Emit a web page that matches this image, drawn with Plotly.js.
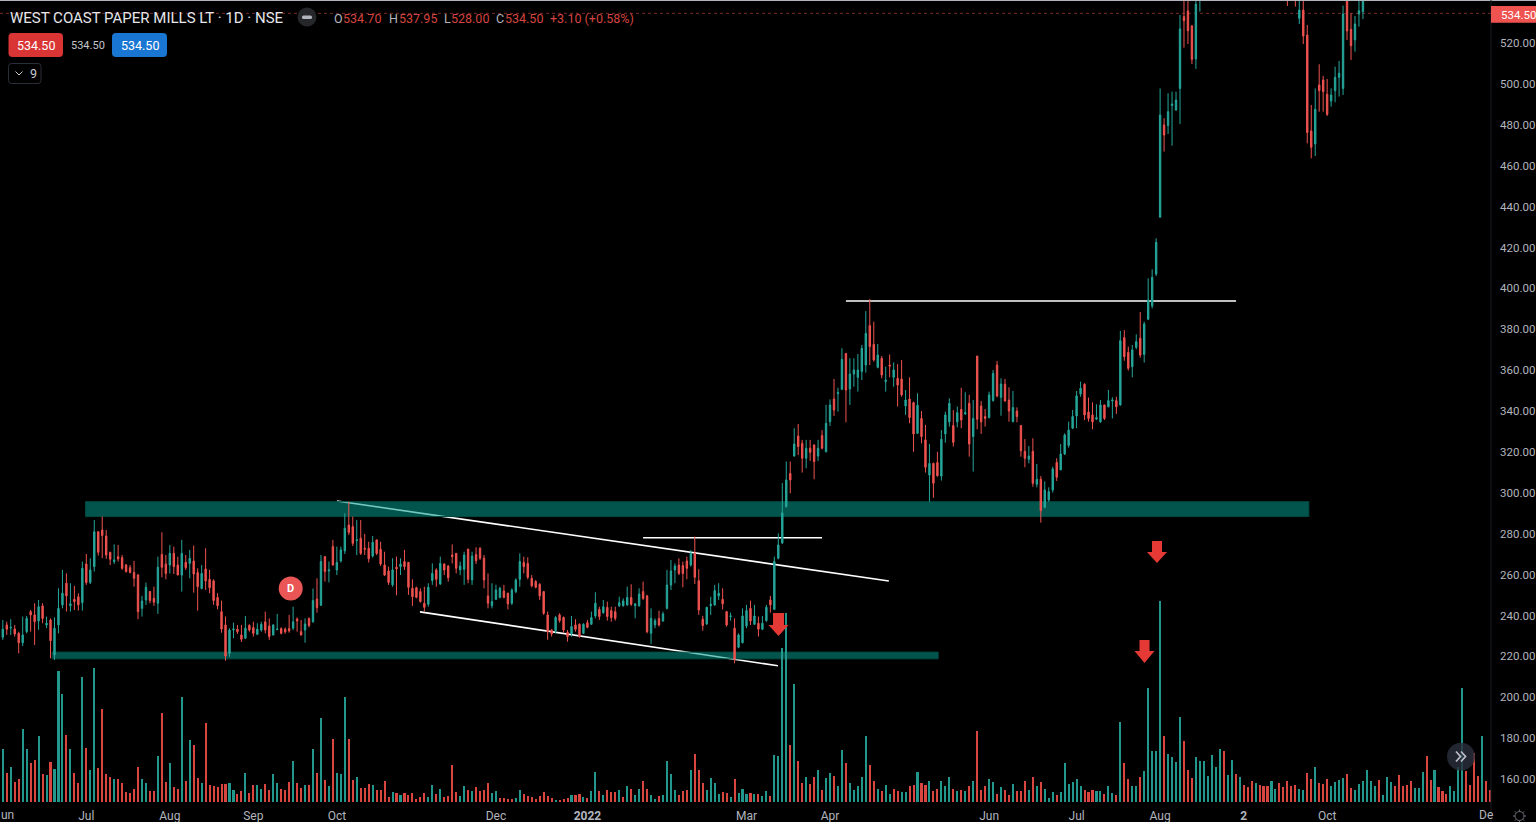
<!DOCTYPE html>
<html><head><meta charset="utf-8">
<script src="https://cdn.plot.ly/plotly-3.0.1.min.js"></script>
<style>html,body{margin:0;padding:0;background:#000;overflow:hidden}#chart{width:1536px;height:822px}</style>
</head><body><div id="chart"></div>
<script>
const open = [
229.4,235.4,233.9,233.4,231.3,226.7,232.1,241.9,240.3,237.3,
244.7,235.4,237.8,220.7,235.4,245.2,255.8,244.8,247.9,249.2,
246.3,265.2,256.2,263.9,281,281.8,278.9,270.9,266.4,268.8,
268.3,264.7,263.4,261.1,259.8,243.5,247.6,251.7,248.4,246,
269.9,265.2,264.7,270.4,264.7,259.8,266,265.5,266.7,261,
253.2,262.8,257.7,257,248.8,241.9,235.4,221.5,232.9,233.3,
230.5,228.9,235.2,234.1,230.8,232.9,236.9,234.9,230.5,233.1,
233.6,233.3,233.6,233.8,238.3,232.1,232.9,238.5,236.9,248.1,
245,268.8,261.8,273.7,262.3,266.7,271.6,284.3,283.5,276.6,
277.8,272.9,272.9,269.1,277,272.4,264.7,261.8,255,263.6,
263.9,266.4,266,253.3,253.6,251.7,246,245.5,257.1,262.3,
255.4,265.2,264.2,269.6,270.4,262.3,262.6,272.5,257.4,269.9,
272.9,268,249.6,244.8,247.9,248.9,252,250.9,246,251.7,
257.7,265.9,265.5,258.2,256.6,255.3,251.7,240.3,232.9,232.6,
240.3,239.1,231.8,231,235.4,235.7,231.3,236.5,235.7,239.8,
243,241.4,244,242.4,241.9,244.7,244.8,245.2,248.8,244.8,
244.8,251.7,249.6,231.3,235.4,238.6,237.3,243.5,254.9,262.3,
264.7,264.4,266.7,264.7,270.4,257,238.2,235.9,244.8,245.2,
249.6,247.9,241.9,239.5,233.8,224.5,226.7,234.9,243.5,235.7,
236.2,233.3,237.5,247.6,243,268,275.5,293.2,309.5,318,
327.8,324.2,316.9,321.8,323.4,318,328,320.1,334.8,345.9,
348.5,350.6,368.2,350.8,358.1,356.5,359.3,362.5,381.8,372.6,
361.4,365.8,354.4,362.5,356.5,356,355.7,342.5,345.9,344.1,
329.1,336.4,325.9,308.7,314.4,314.8,308.2,328.8,334.7,332.9,
334.7,340.8,338.6,343.8,327.5,366.9,342.5,337.3,336.8,345.1,
362.5,346.7,353.1,345.4,334.8,340,332.9,320.3,316.4,320.3,
304.2,306.6,292.9,296.5,301.4,314.8,311.2,319,323.2,331.6,
337.6,348.3,353.1,339.5,338.1,336,334.7,343,342.1,344.9,
345.1,343,375.9,368.7,361.7,371.2,375.6,367.7,384.9,391.4,
407,434.8,479.9,479.6,489.4,487.2,497.8,532.9,535.7,528.3,
512.2,545,556,566,572,588,596,616,602,612,
624,610,620,610,604,594,602,594,586,580,
588,590,576,565,552,548,532.1,536.1,523.9,477,
470.6,499.5,501.9,494.9,491.6,496.7,503.2,497.8,542,526.7,
521.5,534.2,535.3,548,562,568,574,564,568,580,
588,580,566,560,554,548,554,558,578,560,
554,572,566,562,558,564,566,582,612,600,
594,572,562,586,574];
const close = [
233.3,233.3,234.2,231,226.7,230.5,238.6,240.3,237,244.3,
238.6,236.2,227.7,233.8,243.5,250.9,249.6,245.7,246.8,245.2,
263.1,256.1,262.3,281,270.9,279.1,269.6,267.5,267.2,267.7,
263.1,261.5,261.1,258.2,241.9,247.1,253.8,247.3,246.5,263.6,
263.6,260.6,270.4,263.9,259.8,270.4,263.4,268,260.3,254.1,
260.6,256.9,253.6,247.3,244.8,233.4,220.2,232.9,233.4,232.1,
228.4,233.8,232.9,231.3,233.4,235.7,232.9,229.7,235.4,233.4,
231.3,232,232.5,236.9,237.3,230.5,235.9,235.1,247.3,243.9,
266.4,261.5,262.3,264.7,265.9,272.1,282.7,280.7,275.3,277,
270.4,272.4,267.7,275.8,270.4,265.2,259.8,256.2,262.3,262.9,
265.2,263.9,253.8,249.2,248.9,246.8,244,253.8,260.6,257.7,
265.5,262.3,258.5,268.8,263.1,264.2,269.6,257.7,269.1,266.8,
268,257.4,246,246.8,252.5,253.3,248.9,245.7,252.5,257.4,
266.4,263.9,258.7,254.5,253.8,249.6,241.1,232.1,231,239,
237.5,232.9,229.7,234.6,233.3,229.7,235.7,234.2,239,246,
239.5,244.3,239.5,239,238.6,246.3,247.1,248.8,245.5,245.7,
250.5,248.4,232.1,238.6,237.5,235.4,240.8,254.9,261.8,264.2,
260.6,260.6,263.1,270.4,258.7,242.7,235.1,244,245.5,252.2,
250.9,245.7,235.4,239.8,218.6,230.5,239.8,242.4,237.3,239.8,
233.3,236.2,244,245.2,266.4,274.5,290.2,306.3,306.3,323.9,
322.6,316.9,321.8,319.8,315.3,321.8,321.8,334,343,340.5,
349,365.3,350.3,358.1,360.1,360.1,370.7,378,371.5,365,
367.4,357.6,355.2,362,360.1,352.7,347.9,345.4,336.8,328.8,
342.8,327.5,312.5,314.4,304.7,308.4,326.2,338.1,343.8,324.7,
339.2,335.6,339.2,323.9,336.4,336,334.7,336.4,347.9,358.4,
347.4,353.2,344.9,340,341.7,337.3,320.6,316.9,318,304.7,
306.6,291.3,301.4,300.6,311.7,307.6,319,328.3,330.7,337.3,
347.4,351.1,338.1,336.4,334.7,336.8,343,336.4,345.1,345.4,
342.1,374.4,366.6,360.9,369.9,373.9,367.4,382.6,394.3,405.4,
422.5,484.8,475,486.4,490.2,492.1,526.9,530.9,526,512,
539,556,568,572,588,596,616,602,612,624,
610,620,610,604,594,602,594,586,580,588,
590,576,566,548,546,543,536.1,523.4,476.2,469,
487.6,496.7,496.2,485.1,494.6,503.2,505.2,534.2,525.9,518.7,
529.3,535.8,545,562,568,574,564,568,580,588,
580,566,560,554,548,554,558,578,560,554,
572,566,562,558,564,566,582,612,600,594,
572,562,586,574,570];
const high = [
237.8,237,238.2,235.4,232.1,239.5,239.8,242.7,246,247.6,
246,239.5,238.6,239.1,253.3,262.3,260.6,255.8,254.5,250.9,
266.4,270.1,268,286.7,281,288.4,281.8,271.2,274.8,274.5,
269.6,265.2,264.7,266.7,260.3,249.6,256.1,252,254.1,268.8,
280.7,269.6,274.5,273.7,268.8,277,269.6,272.1,274.2,263.1,
264.7,272.9,262.3,257.7,250.9,247.3,239.5,233.8,236.5,235.4,
235.4,239.8,235.7,237,236.2,237,241.9,238.6,235.7,240.8,
234.2,234.2,240.3,244.3,239.1,237.8,238.6,239.1,253.2,258.2,
269.6,269.1,266.4,277,273.7,273.7,290,295.7,288.4,286.7,
286.7,279.9,276.1,278.9,277,276.1,271.2,263.9,268,268.8,
268,272.1,266,257.7,254.1,253.3,254.1,255.8,265.5,263.1,
268.8,265.5,264.7,274.8,270.4,266.4,271.2,272.5,271.2,273.4,
273.4,269.6,260.6,255.8,255,254.1,255,251.2,253.3,258.2,
270.4,268.8,268.5,259.8,257.4,255.8,252,241.9,233.3,239.8,
241.1,239.5,232.9,239.8,238.2,236.2,236.2,237.8,241.9,251.4,
244.3,247.6,246.8,244.3,244.3,249.2,248.4,254.1,255.3,246,
253.3,256.6,250.1,243.5,238.6,242.4,241.9,262.3,267.2,265.5,
268,266.4,268.8,272.1,278.6,262.6,239.8,244.3,249.2,255,
255.8,253.3,242.2,241.4,238.6,231.3,243.5,245.2,247.3,245.2,
239.5,239.8,245.2,249.6,268.8,280.2,304.8,315.3,315.3,331.6,
333.7,325.9,325.9,325.9,323.7,325.9,330.7,343,345.7,355.7,
351.4,370.7,368.2,365.8,365.8,367.9,372.3,388.9,394.8,383.7,
372.8,366.9,361.7,367.7,363.8,363,365,350.3,356.5,344.6,
348.7,340,333.2,323.9,314.8,320.1,330.7,339.7,346.2,340.5,
342.2,351.4,349.2,347.9,345.4,366.9,344.9,341,349.5,360.1,
364.5,356,355.7,351.6,349.8,341.8,333.2,326.3,322.9,326.7,
314.1,308.2,305.6,302.7,312.8,316.9,323.9,329.1,334.8,340.5,
349.8,354.4,353.6,346.6,344.3,343.3,345.4,343,350.3,346.7,
347,379.2,379.6,371.5,372.3,377.5,388.4,383.7,404.9,409.3,
424.5,497.8,483.2,495.4,496.2,496.2,533.7,545,546,528.8,
552,560,572,578,592,602,622,632,618,630,
632,626,626,618,612,606,608,600,594,592,
596,594,582,570,556,554,544,543,528.8,489.7,
497.8,509.6,503.9,502.4,497.8,508.4,511.2,538.3,545,534.5,
533.2,545,550,566,572,578,580,572,584,592,
594,586,572,566,560,558,562,582,590,566,
576,576,570,566,568,570,586,620,620,606,
600,578,592,590,578];
const low = [
228.1,230.5,230.5,229.7,221.5,225.1,231.3,232.1,225.6,233,
236.2,233.8,219.1,218.3,231.3,243.5,241.9,241.9,242.7,242.4,
242.4,255,255.4,261.5,269.3,268,267.7,264.7,265.2,266.4,
262.3,261,260.6,254.1,238.2,239.5,245.2,246,244.7,240.8,
258.7,257.7,260.6,260.3,259.8,251.7,262.3,258.2,251.2,242.4,
252.8,252.5,250.9,245.2,243,231.6,217.9,219.9,228.9,231,
227.1,228.5,232.1,229.7,230.5,232.1,231.3,228.1,230.2,232.9,
230.8,231.1,231.6,232.9,232.1,230.2,226.7,234.2,236.5,241.4,
244.7,256.6,256.2,264.4,259.8,265.9,270.1,279.4,274,269.6,
269.6,269.6,265.9,268.3,269.6,264.2,259.3,255,254.1,249.9,
259.8,262.3,250.1,244.7,248.4,246.3,241.9,244.3,255,254.1,
255,259.8,256.6,265.5,260.6,259.8,255,255.8,255,265.2,
267.2,253.3,243.5,243.5,247.6,248.4,248.4,243,245.2,250.9,
254.1,260.6,257.7,253.8,253.3,247.6,240.3,228.1,229.7,231.3,
236.5,231.6,227.2,229.7,232.1,229.2,231,233.8,235.4,238.6,
237.8,240.8,237.5,237,237.5,244.3,244.3,244.7,244.7,238.6,
244.3,247.6,231.3,226.1,233.8,234.6,237,243,252.5,255.8,
259.8,253.8,257.7,263.9,255.4,240.3,232.6,235.4,240.3,244.7,
247.6,243,234.6,237.5,216.6,224,226.4,233.8,235.4,235.4,
229.7,232.9,237,241.4,242.7,267.5,275,292.9,299.8,317.7,
318.5,309.9,312,315.6,306.6,315.6,321.3,319.8,332.7,337.6,
339.7,350.6,334.5,343,351.9,349.5,355.2,358.8,362.5,364.2,
360.9,356,349.5,356.5,351.9,342.2,347,338.1,334,320.1,
328.8,324.2,309.9,295.7,297.6,307.9,306,324.5,332.4,322.6,
332,331.6,338.1,317.7,310.4,331.1,328.8,332.4,336.4,344.6,
346.7,337.7,344.6,334.8,334.5,334.5,317.7,312.5,314.4,303,
302.7,285.4,292.4,295.7,300.1,305.8,311.2,318.5,322.1,331.2,
331.6,347,335.6,334.8,331.1,335.6,334.3,335.6,341.8,336.4,
338.6,342.6,364.6,359.8,356.5,370.2,366.1,363.7,384.5,390.2,
406,434.8,466.9,475.5,469.8,486.9,480.4,517.7,519.5,509.7,
507.3,535.3,550,558,566,580,590,596,596,604,
606,604,606,600,590,588,590,582,576,574,
582,572,562,538.1,543,537.8,529.3,519.5,470.9,463.6,
464.7,486.4,486.4,484.3,488.9,491,493.8,494.6,521.5,511.7,
515.8,528,531.7,544,556,562,560,560,562,574,
576,562,556,550,546,546,550,554,556,550,
550,562,558,556,554,560,562,578,596,590,
568,558,558,570,566];
const volume = [
53,29,35,20,23,73,53,39,42,66,
28,27,40,33,131,108,67,53,29,19,
125,54,32,134,34,93,28,25,23,23,
19,10,9,13,35,23,19,11,11,46,
89,20,39,15,13,105,21,62,57,24,
19,79,17,16,15,18,18,19,12,8,
11,29,9,17,17,13,18,12,28,19,
13,12,20,41,19,14,17,17,53,29,
84,22,16,63,29,28,105,63,22,25,
14,14,18,17,12,12,21,5,10,9,
7,9,7,9,3,5,9,5,17,8,
13,5,6,37,10,6,16,12,11,15,
11,12,19,9,11,4,4,3,3,4,
12,8,6,5,3,6,10,6,4,2,
2,3,4,7,7,8,5,4,11,30,
11,7,12,10,10,12,5,16,13,7,
13,21,13,7,3,6,7,41,28,12,
7,11,12,32,48,32,19,12,24,19,
8,10,9,5,23,9,13,8,9,8,
8,6,11,6,47,46,154,189,57,118,
41,19,25,18,25,32,12,24,29,26,
16,52,39,19,12,16,25,66,37,21,
13,11,17,8,13,11,10,10,16,17,
30,19,17,21,11,13,21,16,25,13,
11,12,11,16,21,71,12,16,23,20,
8,15,12,7,18,11,11,21,12,25,
16,20,13,4,10,7,10,39,18,20,
23,16,12,10,12,11,11,8,16,9,
7,80,39,23,16,16,25,31,114,51,
51,201,66,48,45,40,85,61,32,24,
45,41,41,26,47,35,53,51,27,42,
28,25,17,15,21,19,17,16,16,21,
13,19,15,21,16,17,13,12,29,23,
35,19,18,23,16,20,22,24,28,14,
12,18,21,32,21,16,22,7,25,20,
16,27,16,17,21,14,14,30,46,22,
32,15,11,8,16,11,35,114,31,17,
49,26,66,21,12];
const volumeSide =
"grgrrggrrg"+"rgrgggrgrr"+"grggrrrrgr"+"rrrrrggrrg"+"rrgrrgrgrr"+"grrrrrrggr"+"rgrrggrrgg"+"rrrgrrgrgr"+"grgrgggrrg"+"rrrgrrrrgr"+
"grrrrrrggr"+"grrrrggrgr"+"rrrggrrrrg"+"grrrrrrrrg"+"rrrgrrgrgg"+"rgrrrgrgrg"+"grrggrgggg"+"rrrgrrrggg"+"grrgrgggrg"+"rggrggggrg"+
"rrgrrgrggr"+"ggrgggggrr"+"grggrrggrr"+"grrgrrgggr"+"grgrgrrrgg"+"rgrrgrrrgr"+"grgggrgggg"+"ggrrrggrgg"+"rgrrggrggg"+"ggrggggrrr"+
"gggggggrgg"+"rgrrrgrrrg"+"grrrrrggrr"+"grrrggggrr"+"ggggggrggg"+"rrrrrgggrr"+"grrrggggrr"+"rrgrr";
const priceTicks = [160,180,200,220,240,260,280,300,320,340,360,380,400,420,440,460,480,500,520,540];
const monthTicks = [21,42,63,84,124,147,187,208,248,270,291,312,333];
const monthLabels = ["Jul","Aug","Sep","Oct","Dec","<b>2022</b>","Mar","Apr","Jun","Jul","Aug","<b>2</b>","Oct"];
const trendLines = [[84,296,222.8,256.9],[104.9,241.8,194.9,215.4],[161,278,206,278],[212,393.8,310.1,393.8]];
const zones = [[20.8,295.7,328.4,288.4],[12.4,222.1,235.2,218.8]];

const W=1491,H=802;
const X=p=>p/W, Y=p=>1-p/H;
const UP='#26a69a',DN='#ef5350',VUP='#22978b',VDN='#d9453f';
const FONT='Roboto,"Liberation Sans",Arial,sans-serif';
const idx=open.map((_,i)=>i);
const pageRect=(x0,y0,x1,y1,fill,line)=>({type:'rect',xref:'paper',yref:'paper',x0:X(x0),x1:X(x1),y0:Y(y0),y1:Y(y1),fillcolor:fill,line:line||{width:0}});
const rounded=(x0,y0,x1,y1,r,fill,line)=>({type:'path',xref:'paper',yref:'paper',fillcolor:fill,line:line||{width:0},
 path:`M ${X(x0+r)} ${Y(y0)} L ${X(x1-r)} ${Y(y0)} Q ${X(x1)} ${Y(y0)} ${X(x1)} ${Y(y0+r)} L ${X(x1)} ${Y(y1-r)} Q ${X(x1)} ${Y(y1)} ${X(x1-r)} ${Y(y1)} L ${X(x0+r)} ${Y(y1)} Q ${X(x0)} ${Y(y1)} ${X(x0)} ${Y(y1-r)} L ${X(x0)} ${Y(y0+r)} Q ${X(x0)} ${Y(y0)} ${X(x0+r)} ${Y(y0)} Z`});
const arrow=(cx,top,bot,mid,hw,sw)=>({type:'path',xref:'paper',yref:'paper',fillcolor:'#e53935',line:{width:0},
 path:`M ${X(cx-sw)} ${Y(top)} L ${X(cx+sw)} ${Y(top)} L ${X(cx+sw)} ${Y(mid)} L ${X(cx+hw)} ${Y(mid)} L ${X(cx)} ${Y(bot)} L ${X(cx-hw)} ${Y(mid)} L ${X(cx-sw)} ${Y(mid)} Z`});
const circle=(cx,cy,r,fill,line)=>({type:'circle',xref:'paper',yref:'paper',x0:X(cx-r),x1:X(cx+r),y0:Y(cy+r),y1:Y(cy-r),fillcolor:fill,line:line||{width:0}});
const chevron=(x,y)=>({type:'path',xref:'paper',yref:'paper',path:`M ${X(x)} ${Y(y-5)} L ${X(x+4.5)} ${Y(y)} L ${X(x)} ${Y(y+5)}`,line:{color:'#b8bcc6',width:1.8}});
const gearSpokes=(cx,cy,r0,r1)=>({type:'path',xref:'paper',yref:'paper',line:{color:'#6a6d78',width:1},
 path:[0,1,2,3,4,5,6,7].map(k=>{const a=k*Math.PI/4;return `M ${X(cx+r0*Math.cos(a))} ${Y(cy+r0*Math.sin(a))} L ${X(cx+r1*Math.cos(a))} ${Y(cy+r1*Math.sin(a))}`;}).join(' ')});
const txt=(x,y,s,color,size,anchor,font)=>({xref:'paper',yref:'paper',x:X(x),y:Y(y),text:s,showarrow:false,xanchor:anchor||'left',yanchor:'middle',borderpad:0,
 font:{color,size,family:font||FONT}});

const shapes=[
 ...trendLines.map(l=>({type:'line',xref:'x',yref:'y2',x0:l[0],y0:l[1],x1:l[2],y1:l[3],line:{color:'#ffffff',width:1.6},layer:'below'})),
 ...zones.map(z=>({type:'rect',xref:'x',yref:'y2',x0:z[0],y0:z[1],x1:z[2],y1:z[3],fillcolor:'rgba(4,155,140,0.55)',line:{color:'#004a42',width:1},layer:'below'})),
 {type:'line',xref:'paper',yref:'y2',x0:0,x1:1,y0:534.5,y1:534.5,line:{color:'rgba(239,83,80,0.5)',width:1,dash:'dot'},layer:'below'},
 {type:'line',xref:'paper',yref:'paper',x0:0,x1:X(1536),y0:Y(0.5),y1:Y(0.5),line:{color:'#b2b5be',width:1}},
 {type:'line',xref:'paper',yref:'paper',x0:1,x1:1,y0:Y(0),y1:Y(822),line:{color:'#1a1c22',width:1}},
 arrow(778.5,613,636,625,10,5.5),arrow(1157,541,563,552,10,5),arrow(1144.5,640,663,651,10,5),
 circle(290.7,588.5,12,'#ea5656'),
 circle(1461,756.7,14,'rgba(40,46,60,0.82)'),chevron(1456,756.5),chevron(1461,756.5),
 circle(1519.5,816,4.5,'rgba(0,0,0,0)',{color:'#6a6d78',width:1}),gearSpokes(1519.5,816,4.5,6.5),
 circle(307,17,9.5,'#26272b'),rounded(302,15.5,312,19,1.5,'#b2b5be'),
 rounded(8.5,33,63,57,4,'#d93535'),rounded(112,33,167,57,4,'#1976d2'),
 rounded(8.5,63.5,41,83.5,3,'rgba(0,0,0,0)',{color:'#2a2e39',width:1}),
 {type:'path',xref:'paper',yref:'paper',path:`M ${X(15.5)} ${Y(71.5)} L ${X(19)} ${Y(75)} L ${X(22.5)} ${Y(71.5)}`,line:{color:'#c8cad0',width:1}},
 pageRect(1491,6,1536,22.7,'#ef5350')
];
const annotations=[
 txt(9,18,'WEST COAST PAPER MILLS LT · 1D · NSE','#e4e6ea',15),
 txt(332.5,18.5,'O','#b2b5be',12.5),txt(342,18.5,'534.70','#d5443f',12.5),
 txt(387.5,18.5,'H','#b2b5be',12.5),txt(398,18.5,'537.95','#d5443f',12.5),
 txt(443,18.5,'L','#b2b5be',12.5),txt(449.5,18.5,'528.00','#d5443f',12.5),
 txt(495,18.5,'C','#b2b5be',12.5),txt(504,18.5,'534.50','#d5443f',12.5),
 txt(549,18.5,'+3.10 (+0.58%)','#d5443f',12.5),
 txt(35.7,45.5,'534.50','#ffffff',12.5,'center'),txt(87.5,45.5,'534.50','#c4c6cc',11,'center'),txt(139.5,45.5,'534.50','#ffffff',12.5,'center'),
 txt(28.5,73.5,'9','#c8cad0',12.5),
 txt(290.7,588.5,'<b>D</b>','#ffffff',11,'center'),
 txt(1500,14.5,'534.50','#ffffff',11.5),
 txt(0,815.5,'un','#b2b5be',12),txt(1477.5,815.5,'De','#b2b5be',12)
];
const data=[
 {type:'bar',x:idx,y:volume,yaxis:'y',xaxis:'x',width:0.52,marker:{color:volumeSide.split('').map(s=>s==='g'?VUP:VDN),line:{width:0}},hoverinfo:'skip'},
 {type:'candlestick',x:idx,open,high,low,close,yaxis:'y2',xaxis:'x',whiskerwidth:0,
  increasing:{line:{color:UP,width:1},fillcolor:UP},decreasing:{line:{color:DN,width:1},fillcolor:DN},hoverinfo:'skip'}
];
const layout={
 width:1536,height:822,margin:{l:0,r:45,t:0,b:20,pad:0},paper_bgcolor:'#000',plot_bgcolor:'#000',showlegend:false,boxgap:0.5,bargap:0,dragmode:false,hovermode:false,
 xaxis:{type:'linear',range:[-0.704,374.2],tickmode:'array',tickvals:monthTicks,ticktext:monthLabels,ticklen:0,showgrid:false,zeroline:false,showline:false,
  tickfont:{color:'#b2b5be',size:12,family:FONT},rangeslider:{visible:false},ticklabelstandoff:5,tickangle:0},
 yaxis:{range:[0,802],visible:false,fixedrange:true},
 yaxis2:{overlaying:'y',side:'right',range:[148.8,541.03],tickmode:'array',tickvals:priceTicks,ticktext:priceTicks.map(v=>v.toFixed(2)),ticklen:0,showgrid:false,zeroline:false,showline:false,
  tickfont:{color:'#b2b5be',size:11.5,family:FONT},ticklabelstandoff:8},
 shapes,annotations
};
Plotly.newPlot('chart',data,layout,{displayModeBar:false,staticPlot:true});
</script></body></html>
